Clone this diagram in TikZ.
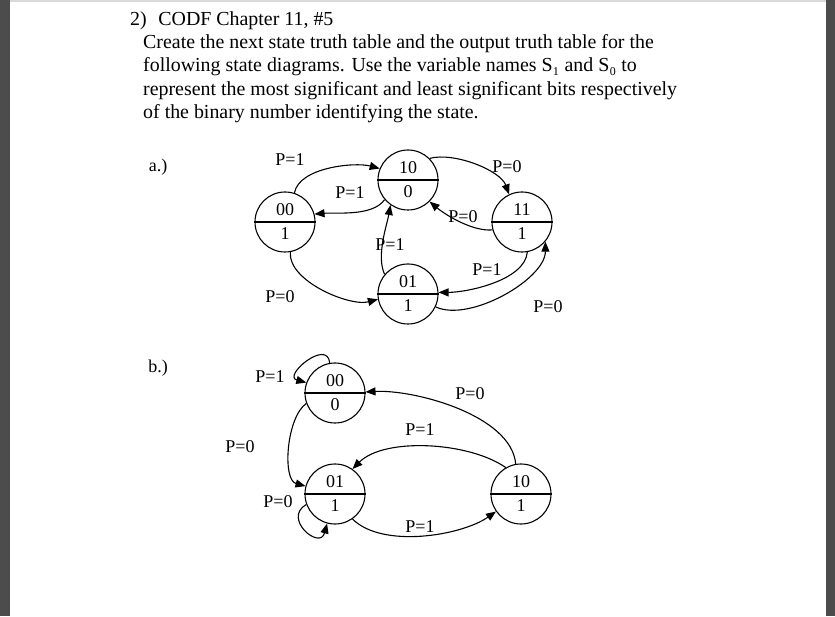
\documentclass[tikz,border=0pt]{standalone}
\usepackage{fontspec}
\setmainfont{Liberation Serif}
\usetikzlibrary{arrows.meta,calc}
\newcommand{\stn}[4]{\node[st] (#1) at (#2) {};
  \draw[line width=1.1pt] (#1.west) -- (#1.east);
  \node[lab] at ($(#1)+(0,12)$) {#3};
  \node[lab] at ($(#1)+(0,-12)$) {#4};}
\begin{document}
\begin{tikzpicture}[x=1pt,y=1pt,
  st/.style={circle,draw,line width=1.1pt,minimum size=60pt,inner sep=0pt},
  lab/.style={font=\fontsize{18}{18}\selectfont,inner sep=0pt},
  tx/.style={font=\fontsize{19.9}{19.9}\selectfont,inner sep=0pt,anchor=base west},
  ed/.style={line width=1.1pt,looseness=0.75,-{Triangle[length=10pt,width=8pt]}}]
\useasboundingbox (0,0) rectangle (835,616);
\fill[white] (0,0) rectangle (835,616);
\fill[black!70] (0,0) rectangle (10,616);
\fill[black!70] (826,0) rectangle (835,616);
\fill[black!15] (10,614) rectangle (826,616);
% text
\node[tx] (t0) at (130,590) {2)\,\, CODF Chapter 11, \#5};
\node[tx] (t1) at (143,567) {Create the next state truth table and the output truth table for the};
\node[tx] (t2) at (143,544) {following state diagrams. Use the variable names S₁ and S₀ to};
\node[tx] (t3) at (143,520) {represent the most significant and least significant bits respectively};
\node[tx] (t4) at (143,497) {of the binary number identifying the state.};
% part a
\node[lab] (la) at (158,449) {a.)};
\stn{A00}{285,394}{00}{1}
\stn{A10}{408,436}{10}{0}
\stn{A11}{522,394}{11}{1}
\stn{A01}{408,322}{01}{1}
\draw[ed] (A00.72) to[out=80,in=165] (A10.158);
\draw[ed] (A10.220) to[out=235,in=5] (A00.15);
\draw[ed] (A10.45) to[out=15,in=110] (A11.115);
\draw[ed] (A11.195) to[out=185,in=-40] (A10.-45);
\draw[ed] (A01.140) to[out=115,in=260] (A10.235);
\draw[ed] (A11.-80) to[out=-95,in=0] (A01.3);
\draw[ed] (A00.-80) to[out=-95,in=195] (A01.190);
\draw[ed] (A01.-25) to[out=-25,in=-90] (A11.-40);
\node[lab] (a1) at (290,456) {P=1};
\node[lab] (a2) at (350,423) {P=1};
\node[lab] (a3) at (507,449) {P=0};
\node[lab] (a4) at (463,399) {P=0};
\node[lab] (a5) at (390,371) {P=1};
\node[lab] (a6) at (487,346) {P=1};
\node[lab] (a7) at (280,319) {P=0};
\node[lab] (a8) at (548,309) {P=0};
% part b
\node[lab] (lb) at (158,248) {b.)};
\stn{B00}{335,223}{00}{0}
\stn{B01}{335,122}{01}{1}
\stn{B10}{521,122}{10}{1}
\draw[ed] (B00.100) .. controls +(95:25) and +(165:25) .. (B00.160);
\draw[ed] (B10.100) to[out=95,in=3] (B00.2);
\draw[ed] (B10.120) to[out=145,in=45] (B01.55);
\draw[ed] (B00.200) to[out=215,in=165] (B01.165);
\draw[ed] (B01.200) .. controls +(210:28) and +(255:28) .. (B01.255);
\draw[ed] (B01.-55) to[out=-45,in=215] (B10.215);
\node[lab] (b1) at (270,239) {P=1};
\node[lab] (b2) at (470,222) {P=0};
\node[lab] (b3) at (420,186) {P=1};
\node[lab] (b4) at (240,169) {P=0};
\node[lab] (b5) at (278,114) {P=0};
\node[lab] (b6) at (420,89) {P=1};
\end{tikzpicture}
\end{document}
